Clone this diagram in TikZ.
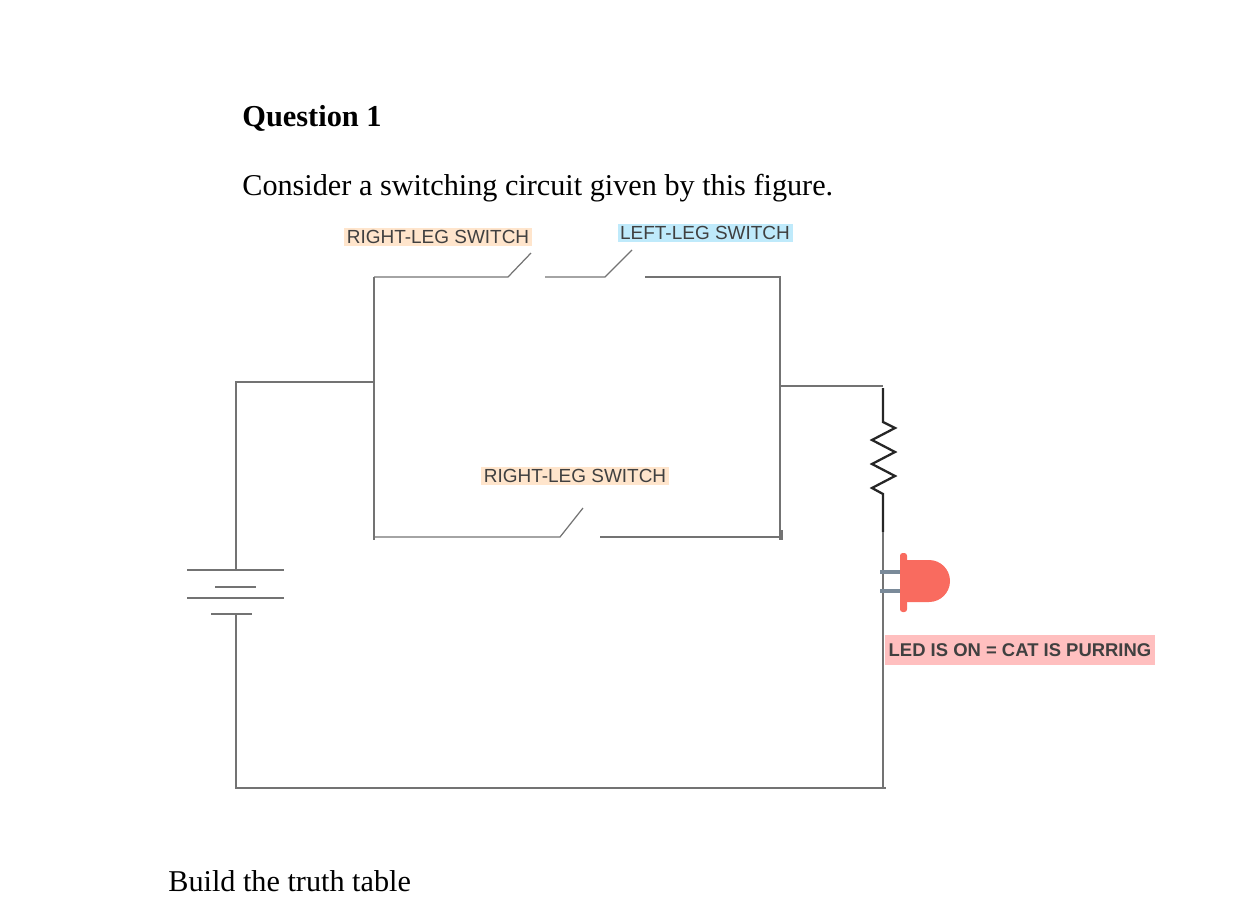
\documentclass[tikz,border=0pt]{standalone}
\usepackage{fontspec}
\setmainfont{Liberation Serif}
\newfontfamily\lsans{Liberation Sans}
\definecolor{ledred}{HTML}{F96B5F}
\definecolor{ledleg}{HTML}{7A8A99}
\begin{document}
\begin{tikzpicture}[x=0.02cm,y=-0.02cm,
 wire/.style={draw=black!55,line width=0.7pt},
 lbl/.style={font=\lsans\fontsize{10.8}{13}\selectfont,text=black!75,inner sep=1.5pt}]
\useasboundingbox (0,0) rectangle (1234,920);
\node[anchor=base west,inner sep=0pt,font=\bfseries\fontsize{17.3}{21}\selectfont] (q) at (242,126) {Question 1};
\node[anchor=base west,inner sep=0pt,font=\fontsize{17.2}{21}\selectfont] (c) at (242,195) {Consider a switching circuit given by this figure.};
\node[anchor=base west,inner sep=0pt,font=\fontsize{17.2}{21}\selectfont] (b) at (168,891) {Build the truth table};
% labels
\node[lbl,fill=orange!20] (l1) at (438,237) {RIGHT-LEG SWITCH};
\node[lbl,fill=cyan!25] (l2) at (705,233) {LEFT-LEG SWITCH};
\node[lbl,fill=orange!20] (l3) at (575,476) {RIGHT-LEG SWITCH};
\node[lbl,fill=red!25,font=\lsans\bfseries\fontsize{10.5}{13}\selectfont,inner xsep=2pt,inner ysep=5pt] (l4) at (1020,650) {LED IS ON = CAT IS PURRING};
% coordinates
\coordinate (tl) at (374,277); \coordinate (tr) at (780,277);
\coordinate (bl) at (374,540); \coordinate (br) at (782,540);
% top branch
\draw[wire] (tl) -- (508,277) -- (531,253);
\draw[wire] (545,277) -- (605,277) -- (632,250);
\draw[wire] (645,277) -- (tr) -- (780,540);
\draw[wire] (tl) -- (bl);
\draw[wire] (374,537) -- (560,537) -- (583,508);
\draw[wire] (600,537) -- (782,537);
\draw[wire] (782,530) -- (782,540);
% left feed
\draw[wire] (236,570) -- (236,382) -- (374,382);
% battery
\draw[wire] (187,570) -- (284,570);
\draw[wire] (215,587) -- (256,587);
\draw[wire] (187,598) -- (284,598);
\draw[wire] (211,614) -- (252,614);
\draw[wire] (236,614) -- (236,788) -- (886,788);
% right
\draw[wire] (780,386) -- (883,386);
\draw[black!85,line width=1.3pt] (883,388) -- (883,422) -- (895,428) -- (872,440) -- (895,452) -- (872,464) -- (895,476) -- (872,488) -- (883,494) -- (883,532);
\draw[wire] (883,532) -- (883,788);
% LED
\fill[ledleg] (880,570) rectangle (902,574);
\fill[ledleg] (880,589) rectangle (902,593);
\fill[ledred,rounded corners=1.5pt] (900,553) rectangle (907,612);
\fill[ledred] (905,560) -- (929,560) arc[start angle=-90,end angle=90,radius=21] -- (905,602) -- cycle;
\end{tikzpicture}
\end{document}
